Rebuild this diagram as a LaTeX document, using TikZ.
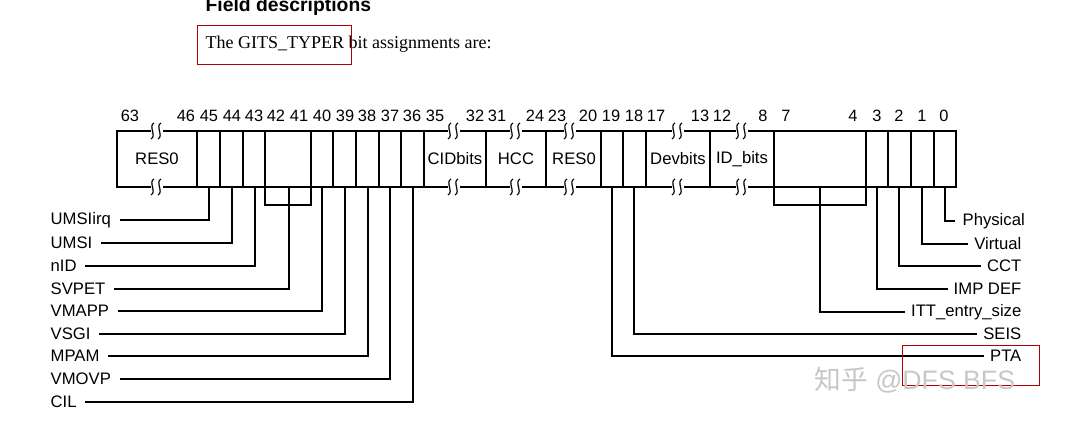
\documentclass[tikz,border=0pt]{standalone}
\usepackage{fontspec}
\setmainfont{Liberation Sans}
\newfontfamily\serifff{Liberation Serif}
\newfontfamily\cjk{Noto Sans CJK SC}
\begin{document}
\begin{tikzpicture}[x=0.75pt,y=-0.75pt,line width=1pt,
  num/.style={font=\fontsize{12.3}{14}\selectfont,inner sep=0pt,anchor=base},
  lab/.style={font=\fontsize{12.5}{14}\selectfont,inner sep=0pt},
  fld/.style={font=\fontsize{12.5}{14}\selectfont,inner sep=0pt},
  redbox/.style={draw=red!70!black,line width=0.6pt}]
\useasboundingbox (0,0) rectangle (1068,423);
% title
\node[anchor=base west,inner sep=0pt,font=\bfseries\fontsize{14.5}{16}\selectfont] (title) at (205,12) {Field descriptions};
\node[anchor=base west,inner sep=0pt,font=\serifff\fontsize{13.5}{15}\selectfont] (intro) at (205,49) {The GITS\_TYPER bit assignments are:};
\draw[redbox] (197,25) rectangle (351,64);
% register box
\draw (117,131) rectangle (956,187);
\foreach \x in {197,220,243,265,311,333,356,379,401,424,486,546,601,623,646,710,774,866,888,911,934}
  \draw (\x,131) -- (\x,187);
% breaks
\foreach \x in {157,454,516,570,678,742}{
  \foreach \y in {131,187}{
    \fill[white] (\x-6,\y-2) rectangle (\x+6,\y+2);
    \draw[line width=0.9pt] (\x-6,\y+8) .. controls (\x,\y+5) and (\x-9,\y-5) .. (\x-3,\y-8);
    \draw[line width=0.9pt] (\x+1,\y+8) .. controls (\x+7,\y+5) and (\x-2,\y-5) .. (\x+4,\y-8);
  }}
% bit numbers
\foreach \n/\x in {63/130,46/186,45/209,44/232,43/254,42/276,41/299,40/322,39/345,38/367,37/390,36/412,35/435,32/475,31/497,24/535,23/557,20/588,19/611,18/634,17/656,13/700,12/722,8/763,7/786,4/853,3/877,2/899,1/922,0/944}
  \node[num] at (\x,122) {\n};
% field names
\node[fld] (res0a) at (157,159) {RES0};
\node[fld] (cid) at (455,159) {CIDbits};
\node[fld] (hcc) at (516,159) {HCC};
\node[fld] (res0b) at (574,159) {RES0};
\node[fld] (dev) at (678,159) {Devbits};
\node[fld] (idb) at (742,159) {ID\_bits};
% left labels
\foreach \name/\txt/\x/\y in {a/UMSIirq/209/220,b/UMSI/232/243,c/nID/255/266,d/SVPET/289/289,e/VMAPP/322/311,f/VSGI/345/334,g/MPAM/368/356,h/VMOVP/390/379,i/CIL/413/402}{
  \node[lab,anchor=west] (L\name) at (50,\y) {\txt};
  \coordinate (T\name) at (\x,\y);
  \draw ([xshift=6pt]L\name.east) -- (T\name) -- (\x,187);
}
\draw (265,187) -- (265,205) -- (311,205) -- (311,187);
\draw (Td) -- (289,205);
% right labels
\node[lab,anchor=west] (Rphys) at (962,221) {Physical};
\draw ([xshift=-5pt]Rphys.west) -- (945,221) -- (945,187);
\foreach \name/\txt/\x/\y in {v/Virtual/922/244,c/CCT/899/266,m/IMP DEF/877/289,t/ITT\_entry\_size/820/312,s/SEIS/634/334,p/PTA/612/356}{
  \node[lab,anchor=east] (R\name) at (1022,\y) {\txt};
  \draw ([xshift=-4pt]R\name.west) -- (\x,\y) -- (\x,187);
}
\draw (774,187) -- (774,205) -- (866,205) -- (866,187);
\draw (820,205) -- (820,209);
\draw[redbox] (902,345) rectangle (1039,385);
% watermark
\node[anchor=west,inner sep=0pt,text=black!22,font=\fontsize{20}{22}\selectfont] (wm) at (814,380) {{\cjk 知乎} @DFS BFS};
\end{tikzpicture}
\end{document}
